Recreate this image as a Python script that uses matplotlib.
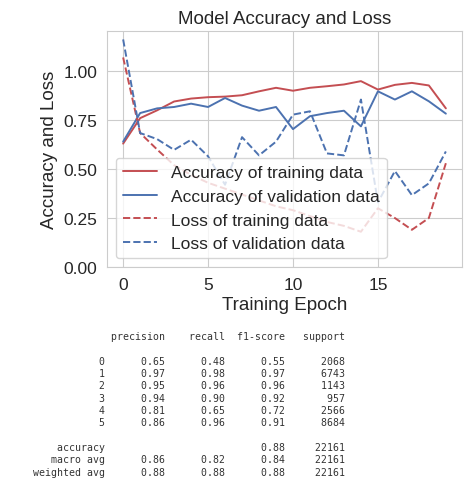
import matplotlib
matplotlib.use("Agg")
import matplotlib.pyplot as plt
import seaborn as sns
import numpy as np

# Historial de entrenamiento
epochs = np.arange(20)
train_acc = [0.63, 0.76, 0.80, 0.845, 0.86, 0.867, 0.87, 0.877, 0.897, 0.915,
             0.90, 0.915, 0.923, 0.932, 0.949, 0.906, 0.93, 0.94, 0.927, 0.81]
val_acc = [0.64, 0.786, 0.81, 0.817, 0.834, 0.817, 0.863, 0.824, 0.798, 0.817,
           0.704, 0.77, 0.786, 0.798, 0.718, 0.897, 0.855, 0.897, 0.846, 0.783]
train_loss = [1.07, 0.684, 0.60, 0.52, 0.47, 0.43, 0.40, 0.37, 0.34, 0.31,
              0.29, 0.26, 0.23, 0.21, 0.18, 0.30, 0.25, 0.19, 0.25, 0.53]
val_loss = [1.162, 0.684, 0.653, 0.598, 0.65, 0.565, 0.42, 0.663, 0.57, 0.64,
            0.778, 0.795, 0.58, 0.57, 0.855, 0.33, 0.49, 0.367, 0.427, 0.59]

# Reporte de clasificación
class_labels = ["0", "1", "2", "3", "4", "5"]
precision = [0.65, 0.97, 0.95, 0.94, 0.81, 0.86]
recall = [0.48, 0.98, 0.96, 0.90, 0.65, 0.96]
f1_score = [0.55, 0.97, 0.96, 0.92, 0.72, 0.91]
support = [2068, 6743, 1143, 957, 2566, 8684]
accuracy = 0.88
macro_avg = [0.86, 0.82, 0.84]
weighted_avg = [0.88, 0.88, 0.88]
total_support = 22161

sns.set_style("whitegrid")
plt.rcParams['font.family'] = ['Liberation Sans', 'DejaVu Sans']

fig = plt.figure(figsize=(4.74, 5.02), dpi=100)
ax = fig.add_axes([107 / 474, 1 - 268 / 502, 355 / 474, 236 / 502])

red = '#c44e52'
blue = '#4c72b0'
ax.plot(epochs, train_acc, color=red, linewidth=1.4, label='Accuracy of training data')
ax.plot(epochs, val_acc, color=blue, linewidth=1.4, label='Accuracy of validation data')
ax.plot(epochs, train_loss, color=red, linewidth=1.4, linestyle='--', label='Loss of training data')
ax.plot(epochs, val_loss, color=blue, linewidth=1.4, linestyle='--', label='Loss of validation data')

ax.set_ylim(0, 1.205)
ax.set_yticks([0, 0.25, 0.5, 0.75, 1.0])
ax.set_xticks([0, 5, 10, 15])
ax.tick_params(labelsize=12.5)
ax.set_title('Model Accuracy and Loss', fontsize=13.5)
ax.set_xlabel('Training Epoch', fontsize=13.5, labelpad=3)
ax.set_ylabel('Accuracy and Loss', fontsize=13.5)
ax.legend(loc='lower left', fontsize=12.5)

# Texto del reporte
width = 12
lines = [' ' * width + ' {:>9}'.format('precision') + ' {:>9}'.format('recall')
         + ' {:>9}'.format('f1-score') + ' {:>9}'.format('support'), '']
for lab, p, r, f, s in zip(class_labels, precision, recall, f1_score, support):
    lines.append('{:>12} {:>9.2f} {:>9.2f} {:>9.2f} {:>9}'.format(lab, p, r, f, s))
lines.append('')
lines.append('{:>12} {:>9} {:>9} {:>9.2f} {:>9}'.format('accuracy', '', '', accuracy, total_support))
lines.append('{:>12} {:>9.2f} {:>9.2f} {:>9.2f} {:>9}'.format('macro avg', *macro_avg, total_support))
lines.append('{:>12} {:>9.2f} {:>9.2f} {:>9.2f} {:>9}'.format('weighted avg', *weighted_avg, total_support))
report = '\n'.join(lines)

fig.text(33 / 474, 1 - 332 / 502, report, family='DejaVu Sans Mono', fontsize=7.1,
         color='#333333', va='top', ha='left', linespacing=1.29)

fig.savefig('out.png', dpi=100)
